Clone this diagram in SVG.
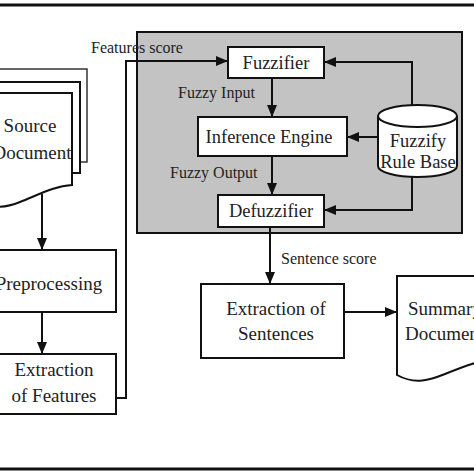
<svg xmlns="http://www.w3.org/2000/svg" width="474" height="474" viewBox="0 0 474 474">
<style>
.box{fill:#fff;stroke:#111;stroke-width:2}
.ln{fill:none;stroke:#111;stroke-width:2}
.big{font-family:"Liberation Serif",serif;font-size:19px;fill:#222}
.mid{font-family:"Liberation Serif",serif;font-size:18.5px;fill:#222}
.sm{font-family:"Liberation Serif",serif;font-size:16px;fill:#222}
</style>
<defs>
<marker id="ah" markerUnits="userSpaceOnUse" markerWidth="13" markerHeight="11" refX="12" refY="5" orient="auto">
<path d="M0,0 L12,5 L0,10 z" fill="#111"/>
</marker>
</defs>
<rect width="474" height="474" fill="#fff"/>
<g id="frame">
<line x1="0" y1="5" x2="474" y2="5" stroke="#111" stroke-width="3"/>
<line x1="0" y1="469" x2="474" y2="469" stroke="#111" stroke-width="3"/>
</g>
<g id="fuzzy-system">
<rect x="137" y="32" width="325" height="201" fill="#c3c3c3" stroke="#111" stroke-width="2"/>
</g>
<g id="connectors">
<polyline class="ln" points="116,398 126,398 126,61 228,61" marker-end="url(#ah)"/>
<line class="ln" x1="42" y1="194" x2="42" y2="250" marker-end="url(#ah)"/>
<line class="ln" x1="42" y1="312" x2="42" y2="354" marker-end="url(#ah)"/>
<line class="ln" x1="272" y1="78" x2="272" y2="117" marker-end="url(#ah)"/>
<line class="ln" x1="272" y1="156" x2="272" y2="195" marker-end="url(#ah)"/>
<polyline class="ln" points="412,118 412,62 324,62" marker-end="url(#ah)"/>
<line class="ln" x1="378" y1="137" x2="347" y2="137" marker-end="url(#ah)"/>
<polyline class="ln" points="412,177 412,210 324,210" marker-end="url(#ah)"/>
<line class="ln" x1="270" y1="227" x2="270" y2="284" marker-end="url(#ah)"/>
<line class="ln" x1="344" y1="312" x2="397" y2="312" marker-end="url(#ah)"/>
</g>
<g id="labels">
<text class="sm" x="91" y="53">Features score</text>
<text class="sm" x="178" y="98">Fuzzy Input</text>
<text class="sm" x="170" y="178">Fuzzy Output</text>
<text class="sm" x="281" y="264">Sentence score</text>
</g>
<g id="source-document">
<rect x="-8" y="69" width="95" height="93" fill="#fff" stroke="#333" stroke-width="1.5"/>
<rect x="-15" y="82" width="95" height="91" class="box"/>
<path class="box" d="M-23,93 L72,93 L72,185 C55,186 40,194 20,202 C5,208 -10,210 -23,200 Z"/>
<text class="big" x="30" y="132" text-anchor="middle">Source</text>
<text class="big" x="32" y="159" text-anchor="middle">Document</text>
</g>
<g id="preprocessing">
<rect class="box" x="-10" y="250" width="126" height="62"/>
<text class="big" x="49" y="290" text-anchor="middle">Preprocessing</text>
</g>
<g id="extraction-features">
<rect class="box" x="-10" y="354" width="126" height="60"/>
<text class="big" x="54" y="376" text-anchor="middle">Extraction</text>
<text class="big" x="54" y="402" text-anchor="middle">of Features</text>
</g>
<g id="fuzzifier">
<rect class="box" x="228" y="47" width="96" height="31"/>
<text class="mid" x="276" y="69" text-anchor="middle">Fuzzifier</text>
</g>
<g id="inference-engine">
<rect class="box" x="198" y="117" width="149" height="39"/>
<text class="mid" x="269" y="143" text-anchor="middle">Inference Engine</text>
</g>
<g id="defuzzifier">
<rect class="box" x="218" y="195" width="106" height="32"/>
<text class="mid" x="271" y="217" text-anchor="middle">Defuzzifier</text>
</g>
<g id="rule-base">
<path class="box" d="M378,116 L378,166 A39.5,11 0 0 0 457,166 L457,116 A39.5,11 0 0 0 378,116 Z"/>
<path class="ln" d="M378,116 A39.5,11 0 0 0 457,116"/>
<text class="mid" x="418" y="147" text-anchor="middle">Fuzzify</text>
<text class="mid" x="418" y="168" text-anchor="middle">Rule Base</text>
</g>
<g id="extraction-sentences">
<rect class="box" x="201" y="284" width="143" height="74"/>
<text class="big" x="276" y="315" text-anchor="middle">Extraction of</text>
<text class="big" x="276" y="340" text-anchor="middle">Sentences</text>
</g>
<g id="summary-document">
<path class="box" d="M397,276 L495,276 L495,360 C480,360 465,366 445,374 C430,380 415,385 397,375 Z"/>
<text class="big" x="408" y="315">Summary</text>
<text class="big" x="405" y="340">Document</text>
</g>
</svg>
